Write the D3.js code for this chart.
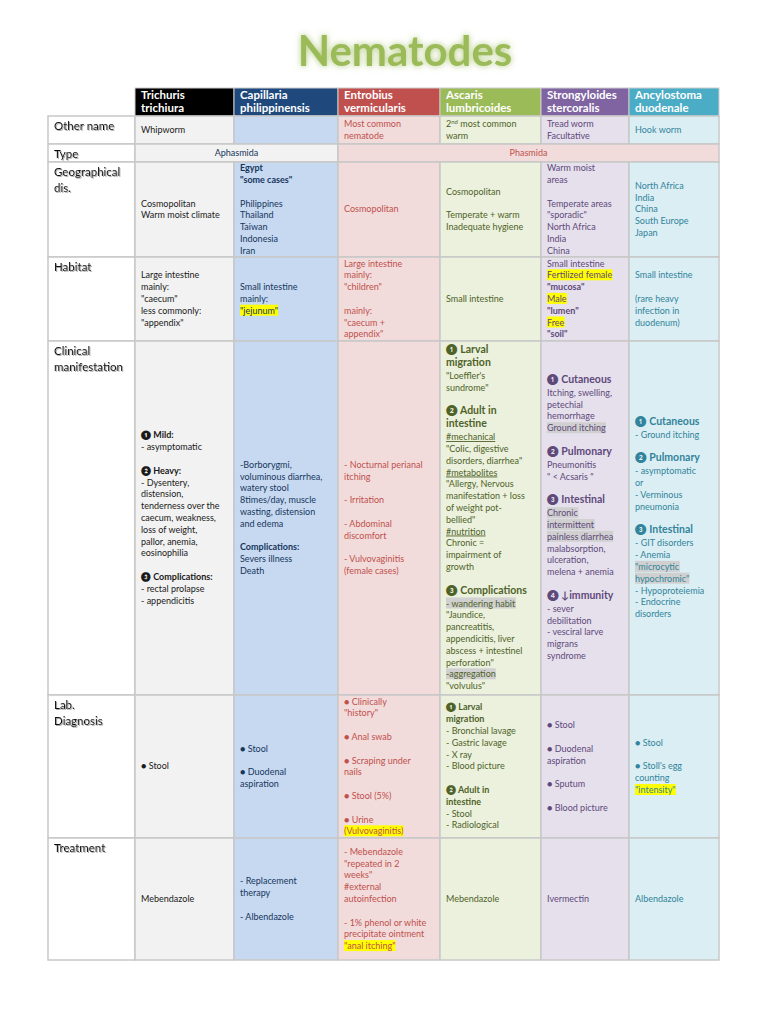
<!DOCTYPE html>
<html><head><meta charset="utf-8">
<script src="https://cdn.jsdelivr.net/npm/d3@7"></script>
<style>body{margin:0;background:#fff}</style>
</head><body>
<script>
'use strict';

// column headers
const species = [["Trichuris", "trichiura"], ["Capillaria", "philippinensis"], ["Entrobius", "vermicularis"],
  ["Ascaris", "lumbricoides"], ["Strongyloides", "stercoralis"], ["Ancylostoma", "duodenale"]];
const rowLabels = [["Other name"], ["Type"], ["Geographical", "dis."], ["Habitat"], ["Clinical", "manifestation"], ["Lab.", "Diagnosis"], ["Treatment"]];
const typeGroups = [{ label: "Aphasmida", from: 0, to: 1 }, { label: "Phasmida", from: 2, to: 5 }];

// cell text, one array per column; prefixes: "*" bold, "^" big bold, "~" yellow mark, "=" grey mark, "_" underline
const otherName = [["Whipworm"], [], ["Most common", "nematode"], ["2nd most common", "warm"], ["Tread worm", "Facultative"], ["Hook worm"]];
const geography = [
  ["Cosmopolitan", "Warm moist climate"],
  ["*Egypt", "*\"some cases\"", "", "Philippines", "Thailand", "Taiwan", "Indonesia", "Iran"],
  ["Cosmopolitan"],
  ["Cosmopolitan", "", "Temperate + warm", "Inadequate hygiene"],
  ["Warm moist", "areas", "", "Temperate areas", "\"sporadic\"", "North Africa", "India", "China"],
  ["North Africa", "India", "China", "South Europe", "Japan"]];
const habitat = [
  ["Large intestine", "mainly:", "\"caecum\"", "less commonly:", "\"appendix\""],
  ["Small intestine", "mainly:", "~\"jejunum\""],
  ["Large intestine", "mainly:", "\"children\"", "", "mainly:", "\"caecum +", "appendix\""],
  ["Small intestine"],
  ["Small intestine", "~Fertilized female", "*\"mucosa\"", "~Male", "*\"lumen\"", "~Free", "*\"soil\""],
  ["Small intestine", "", "(rare heavy", "infection in", "duodenum)"]];
const clinical = [
  ["*❶ Mild:", "- asymptomatic", "", "*❷ Heavy:", "- Dysentery,", "distension,", "tenderness over the", "caecum, weakness,", "loss of weight,", "pallor, anemia,", "eosinophilia", "", "*❸ Complications:", "- rectal prolapse", "- appendicitis"],
  ["-Borborygmi,", "voluminous diarrhea,", "watery stool", "8times/day, muscle", "wasting, distension", "and edema", "", "*Complications:", "Severs illness", "Death"],
  ["- Nocturnal perianal", "itching", "", "- Irritation", "", "- Abdominal", "discomfort", "", "- Vulvovaginitis", "(female cases)"],
  ["^❶ Larval", "^migration", "\"Loeffler's", "sundrome\"", "", "^❷ Adult in", "^intestine", "_#mechanical", "\"Colic, digestive", "disorders, diarrhea\"", "_#metabolites", "\"Allergy, Nervous", "manifestation + loss", "of weight pot-", "bellied\"", "_#nutrition", "Chronic =", "impairment of", "growth", "", "^❸ Complications", "=- wandering habit", "\"Jaundice,", "pancreatitis,", "appendicitis, liver", "abscess + intestinel", "perforation\"", "=-aggregation", "\"volvulus\""],
  ["^❶ Cutaneous", "Itching, swelling,", "petechial", "hemorrhage", "=Ground itching", "", "^❷ Pulmonary", "Pneumonitis", "\" < Acsaris \"", "", "^❸ Intestinal", "=Chronic", "=intermittent", "=painless diarrhea", "malabsorption,", "ulceration,", "melena + anemia", "", "^❹ ↓immunity", "- sever", "debilitation", "- vesciral larve", "migrans", "syndrome"],
  ["^❶ Cutaneous", "- Ground itching", "", "^❷ Pulmonary", "- asymptomatic", "or", "- Verminous", "pneumonia", "", "^❸ Intestinal", "- GIT disorders", "- Anemia", "=\"microcytic", "=hypochromic\"", "- Hypoproteiemia", "- Endocrine", "disorders"]];
const labDiagnosis = [
  ["● Stool"],
  ["● Stool", "", "● Duodenal", "aspiration"],
  ["● Clinically", "\"history\"", "", "● Anal swab", "", "● Scraping under", "nails", "", "● Stool (5%)", "", "● Urine", "~(Vulvovaginitis)"],
  ["*❶ Larval", "*migration", "- Bronchial lavage", "- Gastric lavage", "- X ray", "- Blood picture", "", "*❷ Adult in", "*intestine", "- Stool", "- Radiological"],
  ["● Stool", "", "● Duodenal", "   aspiration", "", "● Sputum", "", "● Blood picture"],
  ["● Stool", "", "● Stoll's egg", "counting", "~\"intensity\""]];
const treatment = [
  ["Mebendazole"],
  ["- Replacement", "   therapy", "", "- Albendazole"],
  ["- Mebendazole", "\"repeated in 2", "weeks\"", "#external", "autoinfection", "", "- 1% phenol or white", "precipitate ointment", "~\"anal itching\""],
  ["Mebendazole"], ["Ivermectin"], ["Albendazole"]];
const bodyRows = [otherName, null, geography, habitat, clinical, labDiagnosis, treatment];

const headFill = ["#000000", "#1f497d", "#c0504d", "#9bbb59", "#8064a2", "#4bacc6"];
const bodyFill = ["#f2f2f2", "#c6d9f0", "#f2dcdb", "#ebf1dd", "#e5e0ec", "#dbeef3"];
const textFill = ["#1a1a1a", "#17365d", "#c0504d", "#4f6228", "#5f497a", "#31849b"];

const colEdges = [48, 135, 234, 338, 440, 541, 629, 719];
const rowEdges = [116, 144, 162, 257, 341, 695, 838, 960];
const lh = 11.8;

const svg = d3.select("body").append("svg").attr("width", 768).attr("height", 1024)
  .style("font-family", "Lato, 'Open Sans', sans-serif");

const defs = svg.append("defs");
const glow = defs.append("filter").attr("id", "glow").attr("x", "-20%").attr("y", "-40%").attr("width", "140%").attr("height", "180%");
glow.append("feGaussianBlur").attr("stdDeviation", 3).attr("in", "SourceAlpha").attr("result", "b");
glow.append("feFlood").attr("flood-color", "#9bbb59").attr("flood-opacity", 0.8);
glow.append("feComposite").attr("in2", "b").attr("operator", "in").attr("result", "g");
const m = glow.append("feMerge"); m.append("feMergeNode").attr("in", "g"); m.append("feMergeNode").attr("in", "SourceGraphic");
const shadow = defs.append("filter").attr("id", "sh");
shadow.append("feDropShadow").attr("dx", 1).attr("dy", 1).attr("stdDeviation", 0.6).attr("flood-color", "#888").attr("flood-opacity", 0.7);

svg.append("text").attr("x", 405).attr("y", 66).attr("text-anchor", "middle")
  .attr("font-size", 42).attr("font-weight", "bold").attr("fill", "#9bbb59").attr("filter", "url(#glow)")
  .text("Nematodes");

// header
species.forEach((s, i) => {
  const x0 = colEdges[i + 1], x1 = colEdges[i + 2];
  svg.append("rect").attr("x", x0).attr("y", 88).attr("width", x1 - x0).attr("height", 28).attr("fill", headFill[i])
    .attr("stroke", "#ccc").attr("stroke-width", 1);
  s.forEach((t, k) => svg.append("text").attr("x", x0 + 6).attr("y", 99 + k * 13)
    .attr("font-size", 11.5).attr("font-weight", "bold").attr("fill", "#fff").text(t));
});

function drawLines(lines, x, yTop, h, color, anchor) {
  const n = lines.length;
  const bigCount = lines.filter(l => /^[_*=~]*\^/.test(l)).length;
  let y = yTop + (h - n * lh - bigCount * 1.2) / 2 + lh - 3;
  lines.forEach(raw => {
    let t = raw, bold = false, big = false, mark = null, ul = false;
    while (/^[*^~=_]/.test(t)) {
      const c = t[0];
      if (c === "*") bold = true; else if (c === "^") big = true; else if (c === "~") mark = "#ffff00";
      else if (c === "=") mark = "#d0d0d0"; else if (c === "_") ul = true;
      t = t.slice(1);
    }
    const size = big ? 10.5 : 9;
    const node = svg.append("text").attr("x", x).attr("y", y).attr("font-size", size)
      .attr("font-weight", bold || big ? "bold" : "normal").attr("fill", color)
      .attr("text-anchor", anchor || "start")
      .attr("text-decoration", ul ? "underline" : null);
    const sup = t.match(/^(\d)(nd)(.*)$/);
    if (sup) {
      node.append("tspan").text(sup[1]);
      node.append("tspan").attr("dy", -3).attr("font-size", 6).text(sup[2]);
      node.append("tspan").attr("dy", 3).text(sup[3]);
    } else node.text(t);
    if (mark) {
      const bb = node.node().getBBox();
      svg.insert("rect", () => node.node()).attr("x", bb.x).attr("y", bb.y).attr("width", bb.width).attr("height", bb.height).attr("fill", mark);
    }
    y += big ? lh + 1.2 : lh;
  });
}

// body rows
rowLabels.forEach((lab, r) => {
  const yTop = rowEdges[r];
  const yBot = rowEdges[r + 1];
  const h = yBot - yTop;
  svg.append("rect").attr("x", colEdges[0]).attr("y", yTop).attr("width", colEdges[1] - colEdges[0]).attr("height", h)
    .attr("fill", "#fff").attr("stroke", "#c8c8c8").attr("stroke-width", 1.5);
  lab.forEach((t, k) => svg.append("text").attr("x", colEdges[0] + 6).attr("y", yTop + 14 + k * 16)
    .attr("font-size", 11.5).attr("fill", "#111").attr("filter", "url(#sh)").text(t));
  if (bodyRows[r] === null) {
    typeGroups.forEach(g => {
      const gi = g.from === 0 ? 0 : 2;
      const x0 = colEdges[g.from + 1], x1 = colEdges[g.to + 2];
      svg.append("rect").attr("x", x0).attr("y", yTop).attr("width", x1 - x0).attr("height", h)
        .attr("fill", bodyFill[gi]).attr("stroke", "#c8c8c8").attr("stroke-width", 1.5);
      drawLines([g.label], (x0 + x1) / 2, yTop, h, textFill[gi === 0 ? 1 : 2], "middle");
    });
    return;
  }
  bodyRows[r].forEach((lines, i) => {
    const x0 = colEdges[i + 1], x1 = colEdges[i + 2];
    svg.append("rect").attr("x", x0).attr("y", yTop).attr("width", x1 - x0).attr("height", h)
      .attr("fill", bodyFill[i]).attr("stroke", "#c8c8c8").attr("stroke-width", 1.5);
    drawLines(lines, x0 + 6, yTop, h, textFill[i]);
  });
});
</script>
</body></html>
